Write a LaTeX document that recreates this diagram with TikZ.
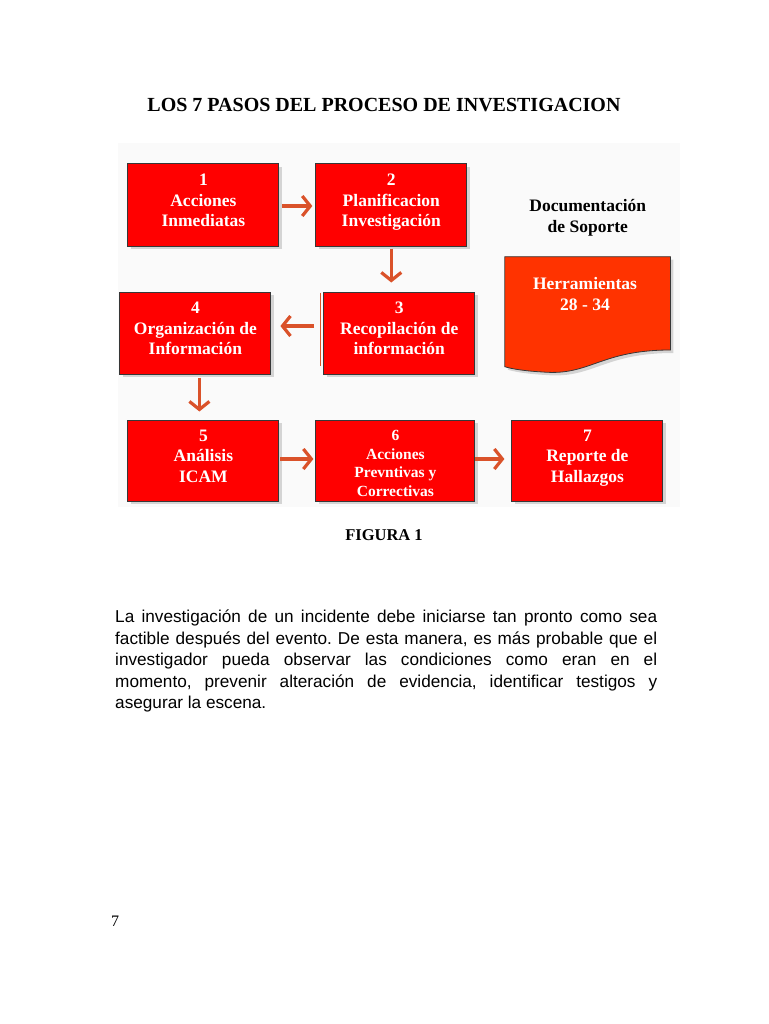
\documentclass[tikz,border=0pt]{standalone}
\usepackage{fontspec}
\setmainfont{Liberation Serif}
\newfontfamily\arialfont{Liberation Sans}
\usetikzlibrary{positioning,calc,arrows.meta,shadows}

\definecolor{boxred}{RGB}{255, 0, 0}
\definecolor{docred}{RGB}{255, 51, 0}
\definecolor{arrowred}{RGB}{218, 82, 42}
\definecolor{edge}{RGB}{55, 55, 55}

\tikzstyle{paso}=[draw=edge, line width=1pt, fill=boxred, text=white, align=center, minimum width=151pt, minimum height=82pt, inner sep=2pt, text depth=9pt, font=\fontsize{17.5}{20.5}\selectfont\bfseries, drop shadow={shadow xshift=3pt, shadow yshift=-3pt, opacity=0.15, fill=black}]
\tikzstyle{flecha}=[draw=arrowred, line width=3.5pt, -{Straight Barb[length=8pt, width=20pt, line width=3.2pt]}]

\begin{document}
\begin{tikzpicture}[x=1pt, y=-1pt]
		\useasboundingbox[fill=white] (0,0) rectangle (768,1024);
		\fill[black!2] (118,143) rectangle (680,507);
		
		\node[font=\fontsize{20}{24}\selectfont\bfseries, anchor=base] (titulo) at (384,112) {LOS 7 PASOS DEL PROCESO DE INVESTIGACION};
		
		\node [paso] (P1) at (203.4,205) {1\\Acciones\\Inmediatas};
		\node [paso] (P2) at (391.3,205) {2\\Planificacion\\Investigación};
		\node [paso] (P3) at (399.2,333) {3\\Recopilación de\\información};
		\node [paso] (P4) at (195.4,333) {4\\Organización de\\Información};
		\node [paso, minimum height=81pt] (P5) at (203.4,460.5) {5\\Análisis\\ICAM};
		\node [paso, minimum height=81pt, minimum width=159pt, inner ysep=1pt, text depth=2pt, font=\fontsize{15.5}{18.6}\selectfont\bfseries] (P6) at (395.4,460.5) {\rule{0pt}{18pt}6\\Acciones\\Prevntivas y\\Correctivas};
		\node [paso, minimum height=81pt] (P7) at (587.4,460.5) {7\\Reporte de\\Hallazgos};
		
		\node[align=center, font=\fontsize{17.5}{21}\selectfont\bfseries] (doc) at (587.8,217.5) {Documentación\\de Soporte};
		
		% hoja de herramientas
		\draw[draw=edge, line width=0.8pt, fill=docred, drop shadow={shadow xshift=3pt, shadow yshift=-3pt, opacity=0.15, fill=black}]
			(504.8,256.7) -- (670.4,256.7) -- (670.4,350)
			.. controls (600,350) and (590,376) .. (543,372)
			.. controls (525,371) and (512,369) .. (504.8,366.7) -- cycle;
		\node[align=center, text=white, font=\fontsize{17.5}{21}\selectfont\bfseries] (herr) at (585,294.5) {Herramientas\\28 - 34};
		
		\coordinate (mid45) at ($(P4.south)!0.5!(P5.north)$);
		\draw[flecha, shorten <=3pt, shorten >=3pt] ([yshift=-1pt]P1.east) -- ([yshift=-1pt]P2.west);
		\draw[flecha, shorten <=2pt, shorten >=9pt] (P2.south) -- (P2.south |- P3.north);
		\draw[flecha, shorten <=9pt, shorten >=9pt] ([yshift=7pt]P3.west) -- ([yshift=7pt]P4.east);
		\draw[flecha, shorten <=3pt, shorten >=8pt] (P4.south -| mid45) -- (P5.north -| mid45);
		\draw[flecha, shorten <=1pt, shorten >=2pt] ([yshift=1.5pt]P5.east) -- ([yshift=1.5pt]P5.east -| P6.west);
		\draw[flecha, shorten <=0pt, shorten >=7pt] ([yshift=1.5pt]P6.east) -- ([yshift=1.5pt]P6.east -| P7.west);
		\draw[arrowred, line width=1.5pt] ([xshift=-2.5pt, yshift=-1pt]P3.north west) -- ([xshift=-2.5pt, yshift=9pt]P3.south west);
		
		\node[font=\fontsize{16.5}{20}\selectfont\bfseries, anchor=base] (figura) at (384,540) {FIGURA 1};
		
		\node[anchor=north west, inner sep=0pt, text width=542pt, align=justify, font=\arialfont\fontsize{17.2}{21.5}\selectfont\frenchspacing] (parrafo) at (115,610) {La investigación de un incidente debe iniciarse tan pronto como sea\linebreak factible después del evento. De esta manera, es más probable que el\linebreak investigador pueda observar las condiciones como eran en el\linebreak momento, prevenir alteración de evidencia, identificar testigos y\linebreak asegurar la escena.};
		
		\node[font=\fontsize{16}{19}\selectfont, anchor=base west, inner sep=0pt] (pagina) at (111,926) {7};
	\end{tikzpicture}
\end{document}
